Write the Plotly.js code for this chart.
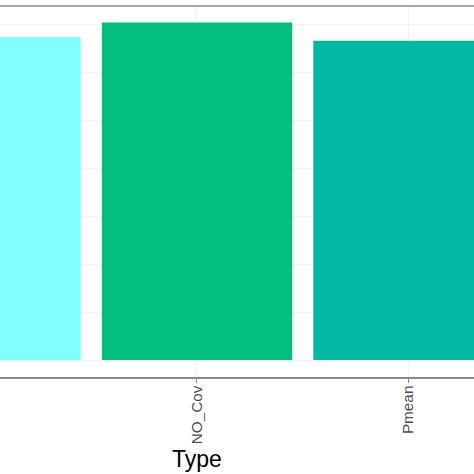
<!DOCTYPE html>
<html>
<head>
<meta charset="utf-8">
<script src="https://cdn.plot.ly/plotly-3.0.1.min.js"></script>
<style>
html,body{margin:0;padding:0;background:#fff;overflow:hidden;}
#chart{width:474px;height:474px;}
</style>
</head>
<body>
<div id="chart"></div>
<script>
// Data
var categories = ["Cov", "NO_Cov", "Pmean"];
var values = [0.673, 0.703, 0.665];
var barColors = ["#80FFFF", "#02BF80", "#00B8A3"];
var xTitle = "Type";

var trace = {
  type: "bar",
  x: categories,
  y: values,
  width: 0.9,
  marker: {color: barColors, line: {width: 0}},
  hoverinfo: "none"
};

var layout = {
  width: 474,
  height: 474,
  margin: {l: 0, r: 0, t: 6, b: 97, pad: 0},
  paper_bgcolor: "#ffffff",
  plot_bgcolor: "#ffffff",
  showlegend: false,
  bargap: 0.1,
  xaxis: {
    type: "category",
    range: [0.0686, 2.3097],
    showgrid: true,
    gridcolor: "#f2f2f2",
    gridwidth: 1,
    zeroline: false,
    showline: true,
    linecolor: "#8a8a8a",
    linewidth: 1.5,
    mirror: false,
    ticks: "outside",
    ticklen: 4,
    tickwidth: 1,
    tickcolor: "#8a8a8a",
    tickangle: -90,
    ticklabelstandoff: -3,
    tickfont: {family: "Liberation Sans, Arial, sans-serif", size: 15.3, color: "#4d4d4d"},
    fixedrange: true
  },
  yaxis: {
    range: [-0.0354, 0.7375],
    tick0: 0,
    dtick: 0.1,
    showgrid: true,
    gridcolor: "#f2f2f2",
    gridwidth: 1,
    zeroline: false,
    showticklabels: false,
    ticks: "",
    showline: false,
    fixedrange: true
  },
  shapes: [
    {type: "line", xref: "paper", yref: "paper", x0: 0, x1: 1, y0: 1, y1: 1,
     line: {color: "#8a8a8a", width: 1.5}}
  ],
  annotations: [
    {xref: "x", yref: "paper", x: 1, y: -0.18, yanchor: "top", xanchor: "center",
     text: xTitle, showarrow: false,
     font: {family: "Liberation Sans, Arial, sans-serif", size: 23, color: "#000000"}}
  ]
};

Plotly.newPlot("chart", [trace], layout, {displayModeBar: false, staticPlot: true});
</script>
</body>
</html>
